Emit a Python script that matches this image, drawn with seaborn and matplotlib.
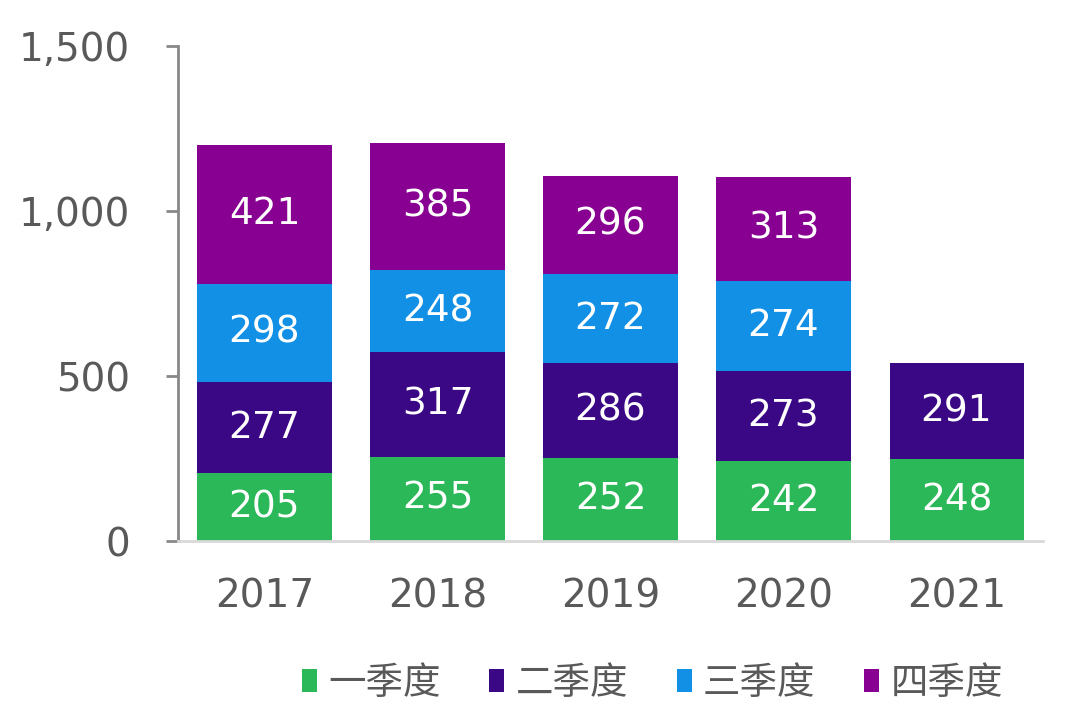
import matplotlib
matplotlib.use("Agg")
import matplotlib.pyplot as plt
import matplotlib.ticker as mticker
from matplotlib.patches import Patch
import numpy as np
import pandas as pd
import seaborn as sns

# data
years = ["2017", "2018", "2019", "2020", "2021"]
quarters = ["一季度", "二季度", "三季度", "四季度"]
q1 = [205, 255, 252, 242, 248]
q2 = [277, 317, 286, 273, 291]
q3 = [298, 248, 272, 274, None]
q4 = [421, 385, 296, 313, None]
colours = ["#2AB858", "#3A0885", "#1290E6", "#880092"]

sns.set_style("white")
plt.rcParams["font.family"] = ["DejaVu Sans", "Noto Sans CJK SC"]
grey = "#595959"

rows = []
for q, vals in zip(quarters, [q1, q2, q3, q4]):
    for y, v in zip(years, vals):
        if v is not None:
            rows.append({"year": y, "quarter": q, "value": v})
df = pd.DataFrame(rows)

fig = plt.figure(figsize=(10.8, 7.23), dpi=100)
ax = fig.add_axes([0.1648, 0.2517, 0.801, 0.6847])

bottom = pd.Series(0.0, index=years)
for q, c in zip(quarters, colours):
    sub = df[df["quarter"] == q]
    sub_years = [y for y in years if y in set(sub["year"])]
    sns.barplot(data=sub, x="year", y="value", order=years, color=c,
                width=0.775, errorbar=None, saturation=1,
                bottom=bottom[sub_years].values, ax=ax, linewidth=0)
    ax.bar_label(ax.containers[-1], labels=[str(v) for v in sub["value"]],
                 label_type="center", color="white", fontsize=27)
    bottom[sub_years] += sub.set_index("year")["value"][sub_years]

ax.set_xlim(-0.5, 4.5)
ax.set_ylim(0, 1500)
ax.set_yticks([0, 500, 1000, 1500])
ax.yaxis.set_major_formatter(mticker.FuncFormatter(lambda v, p: f"{int(v):,}"))
ax.set_xlabel("")
ax.set_ylabel("")

for s in ["top", "right"]:
    ax.spines[s].set_visible(False)
ax.spines["left"].set_color("#888888")
ax.spines["left"].set_linewidth(2)
ax.spines["bottom"].set_color("#D9D9D9")
ax.spines["bottom"].set_linewidth(2)
ax.tick_params(axis="y", direction="out", length=8.5, width=2, color="#888888",
               labelsize=28, labelcolor=grey, pad=26, left=True)
ax.tick_params(axis="x", length=0, labelsize=28, labelcolor=grey, pad=26)

handles = [Patch(facecolor=c, edgecolor="none") for c in colours]
fig.legend(handles, quarters, loc="center", bbox_to_anchor=(0.604, 0.055),
           ncol=4, frameon=False, handlelength=0.4,
           handleheight=0.55, handletextpad=0.3, columnspacing=1.3,
           labelcolor=grey, prop={"family": ["Noto Sans CJK SC"], "size": 27})

fig.savefig("out.png", dpi=100)
